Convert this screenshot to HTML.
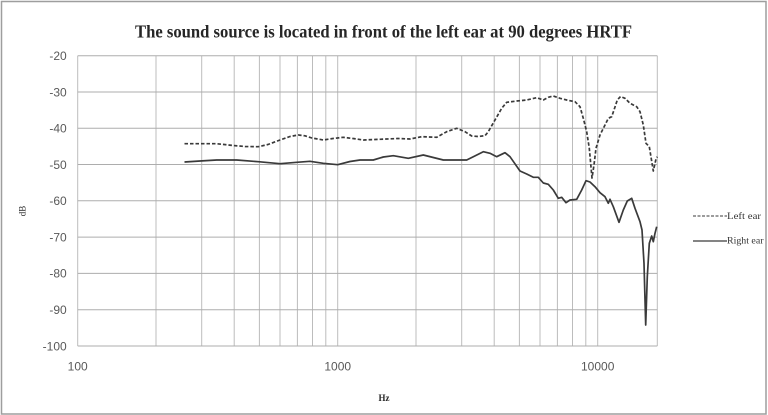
<!DOCTYPE html>
<html>
<head>
<meta charset="utf-8">
<style>
html,body{margin:0;padding:0;background:#fff;}
svg{display:block;}
</style>
</head>
<body>
<svg width="768" height="415" viewBox="0 0 768 415" xmlns="http://www.w3.org/2000/svg">
<rect x="0" y="0" width="768" height="415" fill="#fff"/>
<rect x="1.5" y="1.5" width="764.5" height="412.5" fill="none" stroke="#9e9e9e" stroke-width="1.5"/>

<text x="135" y="37.7" font-family="Liberation Serif, serif" font-weight="bold" font-size="18" fill="#262626" textLength="497" lengthAdjust="spacingAndGlyphs">The sound source is located in front of the left ear at 90 degrees HRTF</text>

<!-- vertical grid -->
<g stroke="#bcbcbc" stroke-width="1">
<line x1="77.7" y1="55.7" x2="77.7" y2="346"/>
<line x1="156" y1="55.7" x2="156" y2="346"/>
<line x1="201.7" y1="55.7" x2="201.7" y2="346"/>
<line x1="234.2" y1="55.7" x2="234.2" y2="346"/>
<line x1="259.4" y1="55.7" x2="259.4" y2="346"/>
<line x1="280" y1="55.7" x2="280" y2="346"/>
<line x1="297.4" y1="55.7" x2="297.4" y2="346"/>
<line x1="312.5" y1="55.7" x2="312.5" y2="346"/>
<line x1="325.8" y1="55.7" x2="325.8" y2="346"/>
<line x1="337.7" y1="55.7" x2="337.7" y2="346"/>
<line x1="416" y1="55.7" x2="416" y2="346"/>
<line x1="461.7" y1="55.7" x2="461.7" y2="346"/>
<line x1="494.2" y1="55.7" x2="494.2" y2="346"/>
<line x1="519.4" y1="55.7" x2="519.4" y2="346"/>
<line x1="540" y1="55.7" x2="540" y2="346"/>
<line x1="557.4" y1="55.7" x2="557.4" y2="346"/>
<line x1="572.5" y1="55.7" x2="572.5" y2="346"/>
<line x1="585.8" y1="55.7" x2="585.8" y2="346"/>
<line x1="597.7" y1="55.7" x2="597.7" y2="346"/>
<line x1="657.3" y1="55.7" x2="657.3" y2="346"/>
</g>
<!-- horizontal grid -->
<g stroke="#adadad" stroke-width="1">
<line x1="77.7" y1="55.7" x2="657.3" y2="55.7"/>
<line x1="77.7" y1="92" x2="657.3" y2="92"/>
<line x1="77.7" y1="128.3" x2="657.3" y2="128.3"/>
<line x1="77.7" y1="164.5" x2="657.3" y2="164.5"/>
<line x1="77.7" y1="200.8" x2="657.3" y2="200.8"/>
<line x1="77.7" y1="237.1" x2="657.3" y2="237.1"/>
<line x1="77.7" y1="273.4" x2="657.3" y2="273.4"/>
<line x1="77.7" y1="309.7" x2="657.3" y2="309.7"/>
<line x1="77.7" y1="346" x2="657.3" y2="346"/>
</g>

<!-- y labels -->
<g font-family="Liberation Sans, sans-serif" font-size="12" fill="#595959" text-anchor="end">
<text x="66.7" y="60">-20</text>
<text x="66.7" y="96.3">-30</text>
<text x="66.7" y="132.6">-40</text>
<text x="66.7" y="168.8">-50</text>
<text x="66.7" y="205.1">-60</text>
<text x="66.7" y="241.4">-70</text>
<text x="66.7" y="277.7">-80</text>
<text x="66.7" y="314">-90</text>
<text x="66.7" y="350.3">-100</text>
</g>
<!-- x labels -->
<g font-family="Liberation Sans, sans-serif" font-size="12" fill="#595959" text-anchor="middle">
<text x="77.7" y="370.5">100</text>
<text x="337.7" y="370.5">1000</text>
<text x="597.7" y="370.5">10000</text>
</g>

<text x="384" y="401" font-family="Liberation Serif, serif" font-weight="bold" font-size="9" fill="#262626" text-anchor="middle">Hz</text>
<text transform="translate(25.5,211) rotate(-90)" font-family="Liberation Serif, serif" font-size="9" fill="#262626" text-anchor="middle">dB</text>

<!-- Left ear -->
<path fill="none" stroke="#3a3a3a" stroke-width="1.7" stroke-dasharray="3.5,2" stroke-linejoin="round" d="M184.5,143.7 L200,143.7 L216.7,143.7 L233,145.5 L245,146.5 L258.3,146.7 L268,144.5 L280,140 L290,136.5 L298.3,135 L305,135.8 L312,138 L323.3,140 L333,138.5 L343.3,137.3 L353,138.5 L363.3,140 L375,139.5 L386.7,139 L398,138.5 L410,139 L421.7,136.7 L436.7,137.3 L446.7,131.7 L456.7,128.3 L465,131.7 L471.7,136 L478,136.5 L485,135.7 L488.3,131.7 L495,120 L501.7,108.3 L506.7,102.3 L516.7,101 L526.7,100 L536.7,97.7 L543.3,100 L548.3,97.3 L553.3,96 L560,98.3 L566.7,100 L575,101.7 L580,106.7 L583.3,118.3 L586.7,131.7 L589.3,148.3 L592,178 L594,165 L596,148.3 L600,135 L605,125 L608.3,118.3 L611.7,116.7 L614,110 L617.3,100 L620.5,96.5 L625,98.3 L630,103.3 L636.7,106.7 L640,111.7 L643.3,125 L646,143.3 L649.3,146.7 L653.3,171 L656,159 L657.3,156.7"/>

<!-- Right ear -->
<path fill="none" stroke="#3a3a3a" stroke-width="1.7" stroke-linejoin="round" d="M184.5,162 L200,161 L216.7,160 L236.7,160 L258.3,161.7 L280,163.7 L296.7,162.3 L310,161.3 L323.3,163.3 L337.7,164.7 L350,161.5 L360,160 L373.3,160 L383.3,157 L393.3,155.7 L408.3,158.3 L423.3,155 L443.3,160 L466.7,160 L473.3,156.7 L483.3,151.7 L490,153.3 L496.7,156.7 L505,152.7 L510,156.7 L520,171 L526.7,174 L533.3,177.3 L538.3,177.3 L543.3,183 L548.3,184.3 L553.3,190 L558.3,198.3 L561.7,197.3 L566,202.7 L570,200 L576.7,199.3 L581.7,190 L586,180.7 L590,182 L595,186.7 L600,192.7 L605,196.7 L608.3,203.3 L610,199.3 L613.3,206.7 L619,222.3 L623.3,210 L627.3,201 L631.7,198.3 L635,208.3 L640,221.7 L642,230 L644,263.3 L645.7,325 L647.3,276.7 L649.3,243.3 L651.7,236 L653.3,241.7 L655,233.3 L656.7,226.7"/>

<!-- legend -->
<line x1="693" y1="216" x2="727" y2="216" stroke="#3a3a3a" stroke-width="1" stroke-dasharray="3,1.5"/>
<text x="727" y="219" font-family="Liberation Serif, serif" font-size="9.5" fill="#333" textLength="34" lengthAdjust="spacingAndGlyphs">Left ear</text>
<line x1="693" y1="241" x2="727" y2="241" stroke="#3a3a3a" stroke-width="1.3"/>
<text x="727" y="243.5" font-family="Liberation Serif, serif" font-size="9.5" fill="#333" textLength="36.5" lengthAdjust="spacingAndGlyphs">Right ear</text>
</svg>
</body>
</html>
